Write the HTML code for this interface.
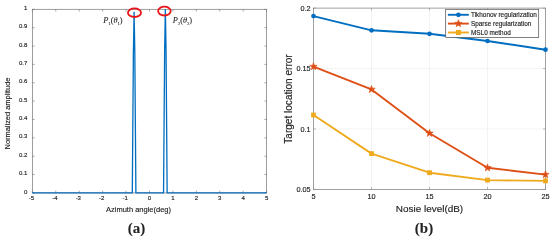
<!DOCTYPE html>
<html><head><meta charset="utf-8"><title>Figure</title>
<style>
html,body{margin:0;padding:0;background:#fff;}
svg{display:block;}
text{font-family:"Liberation Sans",Arial,sans-serif;fill:#222;stroke:#222;stroke-width:0.14px;}
.ser{font-family:"Liberation Serif","Times New Roman",serif;stroke-width:0.08px;}
</style></head><body>
<svg width="550" height="240" viewBox="0 0 550 240">
<defs><filter id="soft" x="0" y="0" width="550" height="240" filterUnits="userSpaceOnUse"><feGaussianBlur stdDeviation="0.42"/></filter></defs>
<rect width="550" height="240" fill="#fff"/>
<g filter="url(#soft)">
<g id="left">
<rect x="32.35" y="9.3" width="234.25" height="183.60" fill="none" stroke="#747474" stroke-width="0.7"/>
<path d="M32.35 192.9v-2.3M32.35 9.3v2.3M32.35 192.90h2.3M266.6 192.90h-2.3M55.78 192.9v-2.3M55.78 9.3v2.3M32.35 174.54h2.3M266.6 174.54h-2.3M79.20 192.9v-2.3M79.20 9.3v2.3M32.35 156.18h2.3M266.6 156.18h-2.3M102.62 192.9v-2.3M102.62 9.3v2.3M32.35 137.82h2.3M266.6 137.82h-2.3M126.05 192.9v-2.3M126.05 9.3v2.3M32.35 119.46h2.3M266.6 119.46h-2.3M149.48 192.9v-2.3M149.48 9.3v2.3M32.35 101.10h2.3M266.6 101.10h-2.3M172.90 192.9v-2.3M172.90 9.3v2.3M32.35 82.74h2.3M266.6 82.74h-2.3M196.33 192.9v-2.3M196.33 9.3v2.3M32.35 64.38h2.3M266.6 64.38h-2.3M219.75 192.9v-2.3M219.75 9.3v2.3M32.35 46.02h2.3M266.6 46.02h-2.3M243.18 192.9v-2.3M243.18 9.3v2.3M32.35 27.66h2.3M266.6 27.66h-2.3M266.60 192.9v-2.3M266.60 9.3v2.3M32.35 9.30h2.3M266.6 9.30h-2.3" stroke="#747474" stroke-width="0.6" fill="none"/>
<g font-size="6" text-anchor="middle">
<text x="31.45" y="200.4">-5</text><text x="54.88" y="200.4">-4</text><text x="78.30" y="200.4">-3</text><text x="101.72" y="200.4">-2</text><text x="125.15" y="200.4">-1</text><text x="149.48" y="200.4">0</text><text x="172.90" y="200.4">1</text><text x="196.33" y="200.4">2</text><text x="219.75" y="200.4">3</text><text x="243.18" y="200.4">4</text><text x="266.60" y="200.4">5</text>
</g>
<g font-size="6" text-anchor="end">
<text x="27.3" y="193.50">0</text><text x="27.3" y="175.14">0.1</text><text x="27.3" y="156.78">0.2</text><text x="27.3" y="138.42">0.3</text><text x="27.3" y="120.06">0.4</text><text x="27.3" y="101.70">0.5</text><text x="27.3" y="83.34">0.6</text><text x="27.3" y="64.98">0.7</text><text x="27.3" y="46.62">0.8</text><text x="27.3" y="28.26">0.9</text><text x="27.3" y="9.90">1</text>
</g>
<polyline points="32.35,192.90 132.30,192.90 133.40,51.64 134.10,11.80 134.80,51.64 135.90,192.90 163.55,192.90 164.65,49.69 165.35,9.30 166.05,49.69 167.15,192.90 266.60,192.90" fill="none" stroke="#066EC0" stroke-width="1.3" stroke-linejoin="miter"/>
<ellipse cx="134.5" cy="12.7" rx="6.55" ry="4.3" fill="none" stroke="#ea1219" stroke-width="1.8"/>
<ellipse cx="164.4" cy="11.1" rx="6.3" ry="4.4" fill="none" stroke="#ea1219" stroke-width="1.8"/>
<text class="ser" x="103.3" y="22.9" font-size="8.3" font-style="italic" fill="#1c1c1c">P<tspan font-size="4.6" dy="1.9" font-style="normal">1</tspan><tspan dy="-1.9" font-style="normal">(</tspan>θ<tspan font-size="4.6" dy="1.9" font-style="normal">1</tspan><tspan dy="-1.9" font-style="normal">)</tspan></text>
<text class="ser" x="172.8" y="22.9" font-size="8.3" font-style="italic" fill="#1c1c1c">P<tspan font-size="4.6" dy="1.9" font-style="normal">2</tspan><tspan dy="-1.9" font-style="normal">(</tspan>θ<tspan font-size="4.6" dy="1.9" font-style="normal">2</tspan><tspan dy="-1.9" font-style="normal">)</tspan></text>
<text x="138.5" y="211.8" font-size="7.5" text-anchor="middle">Azimuth angle(deg)</text>
<text transform="translate(10.4 113.5) rotate(-90)" font-size="7.45" text-anchor="middle">Normalized amplitude</text>
<text class="ser" x="136.6" y="232.9" font-size="15" font-weight="bold" text-anchor="middle" fill="#111">(a)</text>
</g>
<g id="right">
<path d="M371.50 8.1V189.4M429.50 8.1V189.4M487.50 8.1V189.4M313.5 68.53H545.5M313.5 128.97H545.5" stroke="#ebebeb" stroke-width="0.6" fill="none"/>
<rect x="313.5" y="8.1" width="232.00" height="181.30" fill="none" stroke="#8a8a8a" stroke-width="0.8"/>
<path d="M313.50 189.4v-2.4M313.50 8.1v2.4M371.50 189.4v-2.4M371.50 8.1v2.4M429.50 189.4v-2.4M429.50 8.1v2.4M487.50 189.4v-2.4M487.50 8.1v2.4M545.50 189.4v-2.4M545.50 8.1v2.4M313.5 8.10h2.4M545.5 8.10h-2.4M313.5 68.53h2.4M545.5 68.53h-2.4M313.5 128.97h2.4M545.5 128.97h-2.4M313.5 189.40h2.4M545.5 189.40h-2.4" stroke="#8a8a8a" stroke-width="0.6" fill="none"/>
<g font-size="7.3" text-anchor="middle">
<text x="313.50" y="199.3">5</text><text x="371.50" y="199.3">10</text><text x="429.50" y="199.3">15</text><text x="487.50" y="199.3">20</text><text x="545.50" y="199.3">25</text>
</g>
<g font-size="7.3" text-anchor="end">
<text x="310.6" y="10.80">0.2</text><text x="310.6" y="71.23">0.15</text><text x="310.6" y="131.67">0.1</text><text x="310.6" y="192.10">0.05</text>
</g>
<polyline points="313.50,16.10 371.50,30.30 429.50,33.80 487.50,41.00 545.50,49.70" fill="none" stroke="#066EC0" stroke-width="1.9" stroke-linejoin="round"/>
<circle cx="313.50" cy="16.10" r="2.35" fill="#066EC0"/><circle cx="371.50" cy="30.30" r="2.35" fill="#066EC0"/><circle cx="429.50" cy="33.80" r="2.35" fill="#066EC0"/><circle cx="487.50" cy="41.00" r="2.35" fill="#066EC0"/><circle cx="545.50" cy="49.70" r="2.35" fill="#066EC0"/>
<polyline points="313.50,66.60 371.50,89.40 429.50,133.30 487.50,167.80 545.50,174.60" fill="none" stroke="#DE4F16" stroke-width="1.9" stroke-linejoin="round"/>
<polygon points="313.50,62.70 314.42,65.34 317.21,65.39 314.98,67.08 315.79,69.76 313.50,68.16 311.21,69.76 312.02,67.08 309.79,65.39 312.58,65.34" fill="#DE4F16" stroke="#DE4F16" stroke-width="0.6" stroke-linejoin="miter"/><polygon points="371.50,85.50 372.42,88.14 375.21,88.19 372.98,89.88 373.79,92.56 371.50,90.96 369.21,92.56 370.02,89.88 367.79,88.19 370.58,88.14" fill="#DE4F16" stroke="#DE4F16" stroke-width="0.6" stroke-linejoin="miter"/><polygon points="429.50,129.40 430.42,132.04 433.21,132.09 430.98,133.78 431.79,136.46 429.50,134.86 427.21,136.46 428.02,133.78 425.79,132.09 428.58,132.04" fill="#DE4F16" stroke="#DE4F16" stroke-width="0.6" stroke-linejoin="miter"/><polygon points="487.50,163.90 488.42,166.54 491.21,166.59 488.98,168.28 489.79,170.96 487.50,169.36 485.21,170.96 486.02,168.28 483.79,166.59 486.58,166.54" fill="#DE4F16" stroke="#DE4F16" stroke-width="0.6" stroke-linejoin="miter"/><polygon points="545.50,170.70 546.42,173.34 549.21,173.39 546.98,175.08 547.79,177.76 545.50,176.16 543.21,177.76 544.02,175.08 541.79,173.39 544.58,173.34" fill="#DE4F16" stroke="#DE4F16" stroke-width="0.6" stroke-linejoin="miter"/>
<polyline points="313.50,115.00 371.50,153.60 429.50,172.70 487.50,180.10 545.50,180.90" fill="none" stroke="#EFAA1F" stroke-width="1.9" stroke-linejoin="round"/>
<rect x="311.10" y="112.60" width="4.8" height="4.8" fill="#EFAA1F"/><rect x="369.10" y="151.20" width="4.8" height="4.8" fill="#EFAA1F"/><rect x="427.10" y="170.30" width="4.8" height="4.8" fill="#EFAA1F"/><rect x="485.10" y="177.70" width="4.8" height="4.8" fill="#EFAA1F"/><rect x="543.10" y="178.50" width="4.8" height="4.8" fill="#EFAA1F"/>
<rect x="445.7" y="9.3" width="93" height="28.3" fill="#fff" stroke="#4a4a4a" stroke-width="0.7"/>
<path d="M447.9 14.8H468.8" stroke="#066EC0" stroke-width="1.9"/><text x="471" y="17.10" font-size="6.4" fill="#222">Tikhonov regularization</text>
<path d="M447.9 23.6H468.8" stroke="#DE4F16" stroke-width="1.9"/><text x="471" y="25.90" font-size="6.4" fill="#222">Sparse regularization</text>
<path d="M447.9 32.5H468.8" stroke="#EFAA1F" stroke-width="1.9"/><text x="471" y="34.80" font-size="6.4" fill="#222">MSL0 method</text>
<circle cx="458.4" cy="14.8" r="2.35" fill="#066EC0"/><polygon points="458.40,19.70 459.32,22.34 462.11,22.39 459.88,24.08 460.69,26.76 458.40,25.16 456.11,26.76 456.92,24.08 454.69,22.39 457.48,22.34" fill="#DE4F16" stroke="#DE4F16" stroke-width="0.6" stroke-linejoin="miter"/><rect x="455.9" y="30.0" width="5" height="5" fill="#EFAA1F"/>
<text x="429.5" y="211.8" font-size="9.95" text-anchor="middle">Nosie level(dB)</text>
<text transform="translate(292.1 99) rotate(-90)" font-size="10.05" text-anchor="middle">Target location error</text>
<text class="ser" x="424" y="232.8" font-size="15" font-weight="bold" text-anchor="middle" fill="#111">(b)</text>
</g>
</g>
</svg>
</body></html>
